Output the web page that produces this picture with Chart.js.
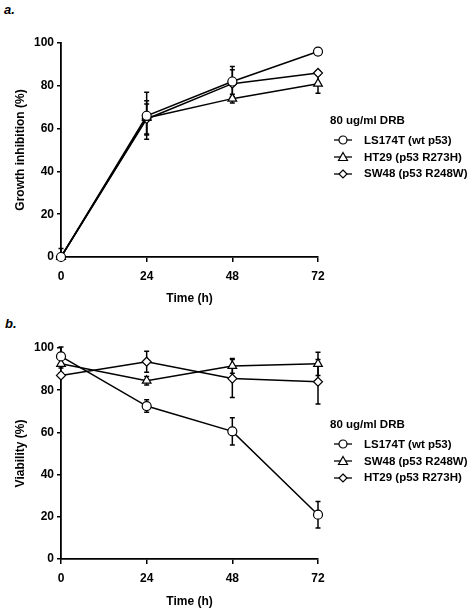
<!DOCTYPE html>
<html>
<head>
<meta charset="utf-8">
<script src="https://cdn.jsdelivr.net/npm/chart.js@4.4.1/dist/chart.umd.min.js"></script>
<style>
  html, body { margin: 0; padding: 0; background: #fff; }
  body { width: 474px; height: 613px; position: relative; overflow: hidden;
         font-family: "Liberation Sans", Arial, sans-serif; font-weight: bold; color: #000; }
  .panel { position: absolute; font-style: italic; font-size: 13px; }
  .box { position: absolute; left: 0; width: 340px; }
  .legend { position: absolute; font-size: 11.5px; }
  .legend .ttl { height: 20px; line-height: 17px; margin-left: -3px; }
  .legend .row { height: 16.7px; line-height: 16.7px; display: flex; align-items: center; }
  .legend svg { width: 20px; height: 12px; margin-right: 11px; }
</style>
</head>
<body>
<div class="panel" style="left:4px; top:2px;">a.</div>
<div class="panel" style="left:5px; top:316px;">b.</div>

<div class="box" style="top:0; height:310px;"><canvas id="chartA"></canvas></div>
<div class="box" style="top:300px; height:313px;"><canvas id="chartB"></canvas></div>

<div class="legend" id="legA" style="left:333px; top:112px;"></div>
<div class="legend" id="legB" style="left:333px; top:416px;"></div>

<script>
// x values (hours)
const TIME = [0, 24, 48, 72];
const Y_TICKS = [0, 20, 40, 60, 80, 100];
const LEGEND_TITLE = '80 ug/ml DRB';

// panel a: growth inhibition (%)
const A_LABELS = ['LS174T (wt p53)', 'HT29 (p53 R273H)', 'SW48 (p53 R248W)'];
const A_MARKERS = ['circle', 'triangle', 'rectRot'];
const A_LS174T = [0, 66, 82, 96];
const A_LS174T_ERR = [4, 11, 7, 1];
const A_HT29 = [0, 65, 74, 81];
const A_HT29_ERR = [0, 8, 2, 4.5];
const A_SW48 = [0, 64.5, 81, 86];
const A_SW48_ERR = [0, 7, 6.5, 1];

// panel b: viability (%)
const B_LABELS = ['LS174T (wt p53)', 'SW48 (p53 R248W)', 'HT29 (p53 R273H)'];
const B_MARKERS = ['circle', 'triangle', 'rectRot'];
const B_LS174T = [96, 72.5, 60.5, 21];
const B_LS174T_ERR = [4.5, 3, 6.5, 6.3];
const B_SW48 = [92.5, 84.5, 91.5, 92.5];
const B_SW48_ERR = [2, 2, 3.5, 5.5];
const B_HT29 = [87, 93.5, 85.5, 84];
const B_HT29_ERR = [1, 5, 9, 10.5];

const FONT = 'Liberation Sans, Arial, sans-serif';

// vertical error bars with caps, drawn under the lines and markers
const errorBars = {
  id: 'errorBars',
  beforeDatasetsDraw(chart) {
    const { ctx, scales: { x, y } } = chart;
    ctx.save();
    ctx.strokeStyle = '#000';
    ctx.lineWidth = 1.5;
    chart.data.datasets.forEach(ds => {
      ds.errors.forEach((e, i) => {
        if (!e) return;
        const px = x.getPixelForValue(TIME[i]);
        const top = y.getPixelForValue(ds.data[i].y + e);
        const bot = y.getPixelForValue(Math.max(0, ds.data[i].y - e));
        ctx.beginPath();
        ctx.moveTo(px, top); ctx.lineTo(px, bot);
        ctx.moveTo(px - 2.5, top); ctx.lineTo(px + 2.5, top);
        if (ds.data[i].y - e > 0) { ctx.moveTo(px - 2.5, bot); ctx.lineTo(px + 2.5, bot); }
        ctx.stroke();
      });
    });
    ctx.restore();
  }
};

function makeSet(label, marker, vals, errs) {
  return {
    label: label,
    data: TIME.map((t, i) => ({ x: t, y: vals[i] })),
    errors: errs,
    borderColor: '#000',
    borderWidth: 1.5,
    backgroundColor: '#fff',
    pointStyle: marker,
    pointRadius: marker === 'triangle' ? 5 : 4.5,
    pointBorderWidth: 1.2,
    pointBorderColor: '#000',
    pointBackgroundColor: '#fff',
    tension: 0,
    clip: false
  };
}

function makeChart(id, datasets, yTitle, padTop, xHeight) {
  return new Chart(document.getElementById(id), {
    type: 'line',
    data: { datasets: datasets },
    options: {
      responsive: true,
      maintainAspectRatio: false,
      animation: false,
      layout: { padding: { top: padTop, right: 22, left: 0, bottom: 0 } },
      plugins: { legend: { display: false }, tooltip: { enabled: false } },
      scales: {
        x: {
          type: 'linear', min: 0, max: 72,
          afterBuildTicks: s => { s.ticks = TIME.map(v => ({ value: v })); },
          afterFit: s => { s.height = xHeight; },
          grid: { drawOnChartArea: false, color: '#000', tickLength: 5, lineWidth: 1.5 },
          border: { color: '#000', width: 1.8 },
          ticks: { color: '#000', padding: 7, font: { family: FONT, size: 12, weight: 'bold' } },
          title: { display: true, text: 'Time (h)', color: '#000', padding: { top: 0, bottom: 4 },
                   font: { family: FONT, size: 12, weight: 'bold' } }
        },
        y: {
          min: 0, max: 100,
          afterBuildTicks: s => { s.ticks = Y_TICKS.map(v => ({ value: v })); },
          afterFit: s => { s.width = 61; },
          grid: { drawOnChartArea: false, color: '#000', tickLength: 4, lineWidth: 1.5 },
          border: { color: '#000', width: 1.8 },
          ticks: { color: '#000', padding: 3, font: { family: FONT, size: 12, weight: 'bold' } },
          title: { display: true, text: yTitle, color: '#000', padding: { top: 13, bottom: 0 },
                   font: { family: FONT, size: 12, weight: 'bold' } }
        }
      }
    },
    plugins: [errorBars]
  });
}

makeChart('chartA', [
  makeSet(A_LABELS[0], A_MARKERS[0], A_LS174T, A_LS174T_ERR),
  makeSet(A_LABELS[1], A_MARKERS[1], A_HT29, A_HT29_ERR),
  makeSet(A_LABELS[2], A_MARKERS[2], A_SW48, A_SW48_ERR)
], 'Growth inhibition (%)', 43, 53);

makeChart('chartB', [
  makeSet(B_LABELS[0], B_MARKERS[0], B_LS174T, B_LS174T_ERR),
  makeSet(B_LABELS[1], B_MARKERS[1], B_SW48, B_SW48_ERR),
  makeSet(B_LABELS[2], B_MARKERS[2], B_HT29, B_HT29_ERR)
], 'Viability (%)', 48, 54);

// legend: short line through the marker, then the label
function symbol(marker) {
  let m;
  if (marker === 'circle') m = '<circle cx="10" cy="6" r="4" fill="#fff" stroke="#000" stroke-width="1.2"/>';
  else if (marker === 'triangle') m = '<polygon points="10,1.5 14.5,9.5 5.5,9.5" fill="#fff" stroke="#000" stroke-width="1.2"/>';
  else m = '<polygon points="10,2 14,6 10,10 6,6" fill="#fff" stroke="#000" stroke-width="1.2"/>';
  return '<svg viewBox="0 0 20 12"><line x1="1" y1="6" x2="19" y2="6" stroke="#000" stroke-width="1.3"/>' + m + '</svg>';
}
function buildLegend(id, labels, markers) {
  const el = document.getElementById(id);
  let html = '<div class="ttl">' + LEGEND_TITLE + '</div>';
  labels.forEach((l, i) => { html += '<div class="row">' + symbol(markers[i]) + '<span>' + l + '</span></div>'; });
  el.innerHTML = html;
}
buildLegend('legA', A_LABELS, A_MARKERS);
buildLegend('legB', B_LABELS, B_MARKERS);
</script>
</body>
</html>
